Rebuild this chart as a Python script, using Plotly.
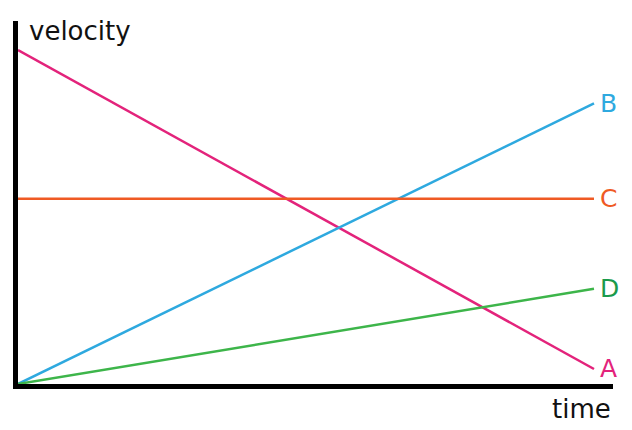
import plotly.graph_objects as go

# data
time = [0, 10]
series_names = ["A", "B", "C", "D"]
vel_A = [10.0, 0.45]
vel_B = [0.0, 8.4]
vel_C = [5.55, 5.55]
vel_D = [0.0, 2.85]
line_colors = ["#e3237b", "#2ea9df", "#ef5a24", "#3db54a"]
label_colors = ["#e3237b", "#2ea9df", "#ef5a24", "#1a9a4b"]
x_title = "time"
y_title = "velocity"

FONT = "DejaVu Sans"

fig = go.Figure()
for name, vals, col, lcol in zip(series_names, [vel_A, vel_B, vel_C, vel_D], line_colors, label_colors):
    fig.add_trace(go.Scatter(x=time, y=vals, mode="lines",
                             line=dict(color=col, width=2.5), name=name,
                             hoverinfo="skip"))
    fig.add_annotation(x=time[-1], y=vals[-1], text=name, showarrow=False,
                       xanchor="left", yanchor="middle", xshift=4,
                       font=dict(family=FONT, size=25, color=lcol))

fig.add_annotation(xref="paper", yref="paper", x=0, y=1, xshift=9, yshift=-10,
                   text=y_title, showarrow=False, xanchor="left", yanchor="middle",
                   font=dict(family=FONT, size=26, color="#111111"))
fig.add_annotation(xref="paper", yref="paper", x=1, y=0, xshift=0, yshift=-25,
                   text=x_title, showarrow=False, xanchor="right", yanchor="middle",
                   font=dict(family=FONT, size=26, color="#111111"))

fig.update_layout(
    width=632, height=430,
    margin=dict(l=18, r=19, t=21, b=46),
    paper_bgcolor="white", plot_bgcolor="white",
    showlegend=False,
    xaxis=dict(range=[0.0, 10.33], showgrid=False, zeroline=False,
               showticklabels=False, ticks="", showline=True,
               linecolor="black", linewidth=5),
    yaxis=dict(range=[0.0, 10.87], showgrid=False, zeroline=False,
               showticklabels=False, ticks="", showline=True,
               linecolor="black", linewidth=5),
)
fig.write_html("out.html", config={"displayModeBar": False},
               post_script="document.body.style.margin='0';document.body.style.overflow='hidden';")
